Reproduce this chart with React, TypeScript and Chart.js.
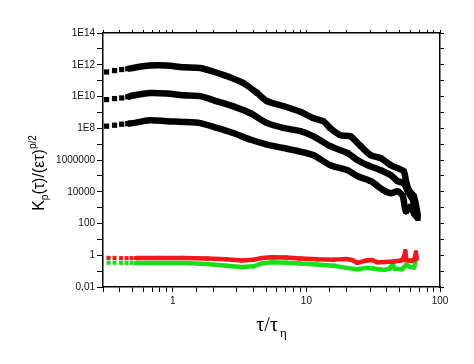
import { useEffect, useRef } from 'react';
import { Chart, registerables } from 'chart.js';

Chart.register(...registerables);

// tau/tau_eta, K_p / (eps tau)^(p/2)
const seriesTop: [number, number][] = [
  [0.319, 3.5e11], [0.366, 4.3e11], [0.414, 5.0e11], [0.46, 5.6e11], [0.5, 6.3e11],
  [0.672, 8.9e11], [0.9, 8.9e11], [1.19, 6.9e11], [1.6, 6.3e11], [1.9, 4.3e11],
  [2.55, 1.9e11], [3.36, 7.1e10], [4.28, 1.66e10], [5.09, 5.0e9], [6.72, 2.5e9],
  [9.0, 1.1e9], [11.3, 4.3e8], [13.4, 2.75e8], [15.1, 1.0e8], [18.0, 3.6e7],
  [21.4, 3.1e7], [25.5, 7.4e6], [30.3, 2.0e6], [36.0, 1.3e6], [42.8, 4.7e5],
  [48.3, 3.0e5], [53.6, 1.95e5], [55.5, 5.3e4], [58.4, 1.24e4], [63.8, 5.2e3],
  [68.4, 2.9e2],
];

const seriesMiddle: [number, number][] = [
  [0.319, 6.4e9], [0.366, 7.4e9], [0.414, 8.1e9], [0.46, 9.5e9], [0.5, 1.15e10],
  [0.672, 1.66e10], [0.9, 1.55e10], [1.19, 1.2e10], [1.6, 1.05e10], [2.14, 5.0e9],
  [2.83, 2.4e9], [3.79, 9.1e8], [5.09, 2.1e8], [6.72, 1.05e8], [9.0, 6.5e7],
  [11.3, 3.1e7], [15.1, 7.4e6], [20.3, 2.7e6], [24.2, 9.6e5], [28.7, 4.7e5],
  [36.0, 2.25e5], [42.8, 1.1e5], [48.3, 4.6e4], [53.6, 3.5e4], [57.4, 1.07e4],
  [62.8, 2.9e3], [65.9, 1.2e3],
];

const seriesBottom: [number, number][] = [
  [0.319, 1.35e8], [0.366, 1.55e8], [0.414, 1.8e8], [0.46, 1.95e8], [0.5, 2.1e8],
  [0.672, 3.2e8], [0.9, 2.75e8], [1.19, 2.5e8], [1.6, 2.1e8], [2.14, 1.05e8],
  [2.83, 5.0e7], [3.79, 1.95e7], [5.09, 9.3e6], [6.72, 5.7e6], [9.0, 3.4e6],
  [11.3, 2.0e6], [15.1, 4.7e5], [20.3, 2.25e5], [24.2, 9.5e4], [30.3, 4.6e4],
  [37.8, 1.24e4], [42.8, 8.1e3], [48.3, 1.07e4], [52.7, 5.2e3], [55.5, 5.9e2],
  [60.6, 1.2e3], [63.8, 4.4e2], [68.4, 2.1e2],
];

const seriesRed: [number, number][] = [
  [0.33, 0.68], [0.366, 0.68], [0.41, 0.66], [0.45, 0.66], [0.49, 0.66],
  [0.53, 0.66], [0.8, 0.68], [1.2, 0.68], [1.8, 0.62], [2.5, 0.56],
  [3.3, 0.47], [4.0, 0.52], [4.6, 0.66], [5.6, 0.76], [7.0, 0.72],
  [9.0, 0.63], [12, 0.56], [16, 0.53], [20, 0.58], [22, 0.5],
  [24, 0.34], [28, 0.46], [31, 0.5], [34, 0.36], [38, 0.37],
  [45, 0.4], [52, 0.48], [54, 0.9], [55, 1.8], [56, 0.5],
  [60, 0.45], [64, 0.5], [66, 1.5], [67, 0.62],
];

const seriesGreen: [number, number][] = [
  [0.33, 0.34], [0.366, 0.34], [0.41, 0.33], [0.45, 0.33], [0.49, 0.33],
  [0.53, 0.32], [0.8, 0.33], [1.2, 0.33], [1.8, 0.28], [2.5, 0.22],
  [3.3, 0.18], [4.0, 0.2], [4.6, 0.3], [5.5, 0.36], [7.0, 0.34],
  [9.0, 0.3], [12, 0.26], [16, 0.22], [20, 0.16], [24, 0.13],
  [28, 0.16], [31, 0.15], [35, 0.13], [38, 0.12], [42, 0.14],
  [44, 0.28], [46, 0.14], [52, 0.13], [56, 0.26], [60, 0.18],
  [64, 0.17], [66, 0.55],
];

const xTickValues = [1, 10, 100];
const xTickLabels = ['1', '10', '100'];
const yTickExponents = [-2, 0, 2, 4, 6, 8, 10, 12, 14];
const yTickLabels = ['0,01', '1', '100', '10000', '1000000', '1E8', '1E10', '1E12', '1E14'];
const yMinorExponents = [-1, 1, 3, 5, 7, 9, 11, 13];

const X_MIN = 0.3;
const X_MAX = 100;
const Y_MIN = 0.01;
const Y_MAX = 1e14;

const toXY = (arr: [number, number][]) => arr.map(([x, y]) => ({ x, y }));

const yTicksAll = () =>
  [...yTickExponents, ...yMinorExponents]
    .sort((a, b) => a - b)
    .map((e) => ({ value: Math.pow(10, e) }));

const titlesPlugin = {
  id: 'titles',
  afterDraw(chart: any) {
    const ctx = chart.ctx as CanvasRenderingContext2D;
    const area = chart.chartArea;
    ctx.save();
    ctx.fillStyle = '#000';
    ctx.textBaseline = 'alphabetic';
    ctx.textAlign = 'left';

    // X title: τ/τ_η
    const mainFont = '20px "Liberation Serif"';
    const subFont = '13px "Liberation Serif"';
    ctx.font = mainFont;
    const wMain = ctx.measureText('τ/τ').width;
    ctx.font = subFont;
    const wSub = ctx.measureText('η').width;
    const cx = (area.left + area.right) / 2;
    const x0 = cx - (wMain + wSub + 2) / 2;
    ctx.font = mainFont;
    ctx.fillText('τ/τ', x0, 331);
    ctx.font = subFont;
    ctx.fillText('η', x0 + wMain + 2, 337);

    // Y title: K_p(τ)/(ετ)^{p/2}
    const parts = [
      { t: 'K', f: '16px "Liberation Sans"', dy: 0 },
      { t: 'p', f: '10px "Liberation Sans"', dy: 4 },
      { t: '(τ)/(ετ)', f: '16px "Liberation Sans"', dy: 0 },
      { t: 'p/2', f: '10px "Liberation Sans"', dy: -8 },
    ];
    let total = 0;
    const widths = parts.map((p) => {
      ctx.font = p.f;
      const w = ctx.measureText(p.t).width;
      total += w;
      return w;
    });
    ctx.translate(44, 173);
    ctx.rotate(-Math.PI / 2);
    let u = -total / 2;
    parts.forEach((p, i) => {
      ctx.font = p.f;
      ctx.fillText(p.t, u, p.dy);
      u += widths[i];
    });
    ctx.restore();
  },
};

export default function App() {
  const canvasRef = useRef<HTMLCanvasElement | null>(null);

  useEffect(() => {
    document.body.style.margin = '0';
    const canvas = canvasRef.current;
    if (!canvas) return;

    const black = (data: [number, number][]) => ({
      data: toXY(data),
      showLine: true,
      borderColor: '#000',
      backgroundColor: '#000',
      borderWidth: 6.5,
      borderJoinStyle: 'round' as const,
      tension: 0.25,
      pointStyle: 'rect' as const,
      pointRadius: 3.7,
      pointBorderWidth: 0,
      pointHoverRadius: 3.7,
      segment: {
        borderColor: (c: any) => (c.p0DataIndex < 3 ? 'rgba(0,0,0,0)' : undefined),
      },
    });

    const colored = (data: [number, number][], color: string) => ({
      data: toXY(data),
      showLine: true,
      borderColor: color,
      backgroundColor: color,
      borderWidth: 4.5,
      borderJoinStyle: 'round' as const,
      pointStyle: 'rect' as const,
      pointRadius: 2.9,
      pointBorderWidth: 0,
      pointHoverRadius: 2.9,
      segment: {
        borderColor: (c: any) => (c.p0DataIndex < 5 ? 'rgba(0,0,0,0)' : undefined),
      },
    });

    const tickFont = { family: '"Liberation Sans", Arial, sans-serif', size: 10 };

    const chart = new Chart(canvas, {
      type: 'scatter',
      data: {
        datasets: [
          black(seriesTop),
          black(seriesMiddle),
          black(seriesBottom),
          colored(seriesRed, '#f01818'),
          colored(seriesGreen, '#18e018'),
        ] as any,
      },
      options: {
        animation: false,
        responsive: false,
        devicePixelRatio: 1,
        layout: { padding: 0 },
        plugins: {
          legend: { display: false },
          tooltip: { enabled: false },
        },
        scales: {
          x: {
            type: 'logarithmic',
            position: 'bottom',
            min: X_MIN,
            max: X_MAX,
            afterFit: (s: any) => { s.height = 77; },
            grid: { drawOnChartArea: false, drawTicks: true, tickLength: 5, color: '#000', tickWidth: 1 },
            border: { display: true, color: '#000', width: 1.5 },
            ticks: {
              autoSkip: false,
              maxRotation: 0,
              padding: 3,
              color: '#111',
              font: tickFont,
              callback: (v: any) => {
                const i = xTickValues.findIndex((t) => Math.abs(t - Number(v)) < 1e-9 * t);
                return i >= 0 ? xTickLabels[i] : '';
              },
            },
          },
          x2: {
            type: 'logarithmic',
            position: 'top',
            min: X_MIN,
            max: X_MAX,
            afterFit: (s: any) => { s.height = 33; },
            grid: { drawOnChartArea: false, drawTicks: true, tickLength: 3, color: '#000' },
            border: { display: true, color: '#000', width: 1.5 },
            ticks: { display: true, autoSkip: false, callback: () => '', padding: 0, font: { size: 1 } },
          },
          y: {
            type: 'logarithmic',
            position: 'left',
            min: Y_MIN,
            max: Y_MAX,
            afterFit: (s: any) => { s.width = 103; },
            afterBuildTicks: (s: any) => { s.ticks = yTicksAll(); },
            grid: { drawOnChartArea: false, drawTicks: true, tickLength: 6, color: '#000' },
            border: { display: true, color: '#000', width: 1.5 },
            ticks: {
              autoSkip: false,
              padding: 2,
              color: '#111',
              font: tickFont,
              callback: (v: any) => {
                const e = Math.round(Math.log10(Number(v)));
                const i = yTickExponents.indexOf(e);
                return i >= 0 ? yTickLabels[i] : '';
              },
            },
          },
          y2: {
            type: 'logarithmic',
            position: 'right',
            min: Y_MIN,
            max: Y_MAX,
            afterFit: (s: any) => { s.width = 34; },
            afterBuildTicks: (s: any) => { s.ticks = yTicksAll(); },
            grid: { drawOnChartArea: false, drawTicks: true, tickLength: 4, color: '#000' },
            border: { display: true, color: '#000', width: 1.5 },
            ticks: { display: true, autoSkip: false, callback: () => '', padding: 0, font: { size: 1 } },
          },
        },
      } as any,
      plugins: [titlesPlugin],
    });

    return () => chart.destroy();
  }, []);

  return (
    <div style={{ width: 474, height: 364, background: '#fff' }}>
      <canvas ref={canvasRef} width={474} height={364} style={{ display: 'block' }} />
    </div>
  );
}
